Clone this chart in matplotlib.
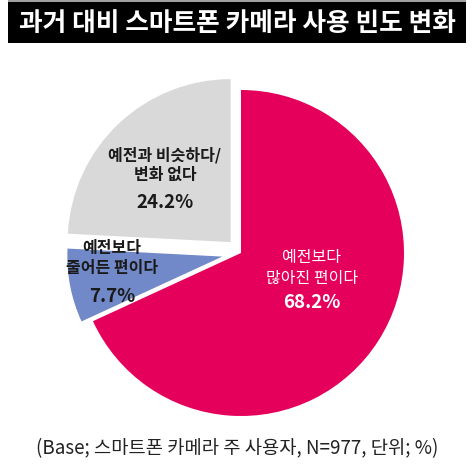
import matplotlib
matplotlib.use("Agg")
import matplotlib.pyplot as plt
from matplotlib.patches import Rectangle

plt.rcParams['font.family'] = ['Noto Sans CJK KR', 'DejaVu Sans']

# 데이터
labels = ["예전보다\n많아진 편이다", "예전보다\n줄어든 편이다", "예전과 비슷하다/\n변화 없다"]
values = [68.2, 7.7, 24.2]
colors = ["#E4005B", "#7189C8", "#D9D9D9"]
explode = [0.0, 19.0, 15.0]   # 픽셀 단위
title = "과거 대비 스마트폰 카메라 사용 빈도 변화"
note = "(Base; 스마트폰 카메라 주 사용자, N=977, 단위; %)"

W = H = 474
fig = plt.figure(figsize=(4.74, 4.74), dpi=100)
ax = fig.add_axes([0, 0, 1, 1])

wedges, _ = ax.pie(values, colors=colors, explode=explode, startangle=90,
                   counterclock=False, center=(241, H - 253), radius=163,
                   wedgeprops=dict(linewidth=0))
wedges[1].set_radius(155)

ax.set_xlim(0, W)
ax.set_ylim(0, H)
ax.set_aspect('equal')
ax.axis('off')

# 제목 바
ax.add_patch(Rectangle((8, H - 43), 458, 41, facecolor='black', edgecolor='none'))
ax.add_patch(Rectangle((8, H - 2), 458, 2, facecolor='#A0A0A0', edgecolor='none'))
ax.text(237, H - 23, title, color='white', fontsize=18.5, fontweight='bold',
        ha='center', va='center')

# 라벨
label_pos = [(312, 268), (112, 258), (165, 165)]
pct_pos = [(312, 302), (112, 297), (165, 202)]
text_colors = ['white', '#1A1A1A', '#1A1A1A']
weights = ['medium', 'bold', 'bold']
for lab, val, (lx, ly), (px, py), tc, fw in zip(labels, values, label_pos, pct_pos,
                                                text_colors, weights):
    ax.text(lx, H - ly, lab, color=tc, fontsize=11.5, fontweight=fw,
            ha='center', va='center', linespacing=1.3)
    ax.text(px, H - py, f"{val}%", color=tc, fontsize=13.5, fontweight='bold',
            ha='center', va='center')

ax.text(237, H - 449, note, color='#222222', fontsize=13.5, ha='center', va='center')

fig.savefig("out.png", dpi=100)
